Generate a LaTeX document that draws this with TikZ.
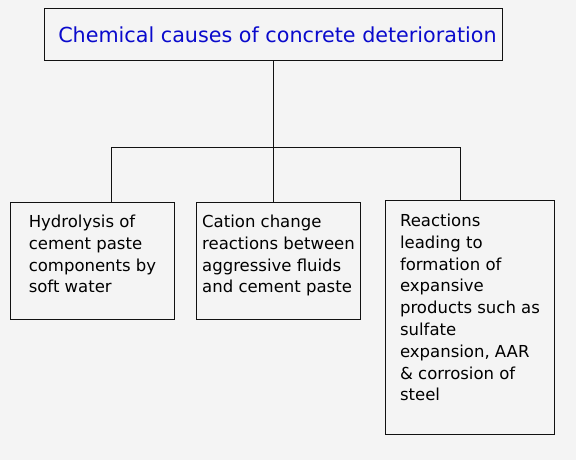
\documentclass[tikz,border=0pt]{standalone}
\usepackage{fontspec}
\setmainfont{DejaVu Sans}
\usetikzlibrary{positioning}
\definecolor{pagebg}{HTML}{F4F4F4}
\definecolor{titleblue}{HTML}{0A0ACC}
\definecolor{boxline}{HTML}{111111}

\begin{document}
\begin{tikzpicture}[
  x=1pt, y=-1pt,
  every node/.style={font=\fontsize{16.5}{21.8}\selectfont},
  headbox/.style={draw=boxline, line width=1pt, fill=pagebg, anchor=north west,
    inner sep=0pt, minimum width=458pt, minimum height=52pt,
    text=titleblue, font=\fontsize{20.7}{24}\selectfont},
  causebox/.style={draw=boxline, line width=1pt, fill=pagebg, anchor=north west,
    align=left, inner sep=0pt},
  link/.style={draw=boxline, line width=1pt},
]

% ═══════════════════════════════════════════
% PAGE
% ═══════════════════════════════════════════
\useasboundingbox[fill=pagebg] (0,0) rectangle (576,460);

% ═══════════════════════════════════════════
% TITLE BOX
% ═══════════════════════════════════════════
\node[headbox] (title) at (44,8) {\hspace{8pt}Chemical causes of concrete deterioration};

% ═══════════════════════════════════════════
% CAUSE BOXES
% ═══════════════════════════════════════════
% baseline sits on the last line: height = 25 + (lines-1)*21.8
\node[causebox, minimum width=164pt, text height=90.4pt, text depth=26.6pt] (hydro) at (10,202) {
  Hydrolysis of\\
  cement paste\\
  components by\\
  soft water
};

\node[causebox, minimum width=164pt, text height=90.4pt, text depth=26.6pt,
  right=21pt of hydro.north east, anchor=north west] (cation) {
  Cation change\\
  reactions between\\
  aggressive fluids\\
  and cement paste
};

\node[causebox, minimum width=169pt, text height=200.4pt, text depth=33.6pt,
  right=24pt of cation.north east, anchor=north west, yshift=2pt] (reac) {
  Reactions\\
  leading to\\
  formation of\\
  expansive\\
  products such as\\
  sulfate\\
  expansion, AAR\\
  \& corrosion of\\
  steel
};

% ═══════════════════════════════════════════
% TREE CONNECTORS
% ═══════════════════════════════════════════
\coordinate (barL) at (111,147);
\coordinate (barR) at (460,147);

\draw[link] (title.south) -- (title.south |- barL) -- (title.south |- cation.north);
\draw[link] (hydro.north -| barL) -- (barL) -- (barR) -- (reac.north -| barR);

\end{tikzpicture}
\end{document}
